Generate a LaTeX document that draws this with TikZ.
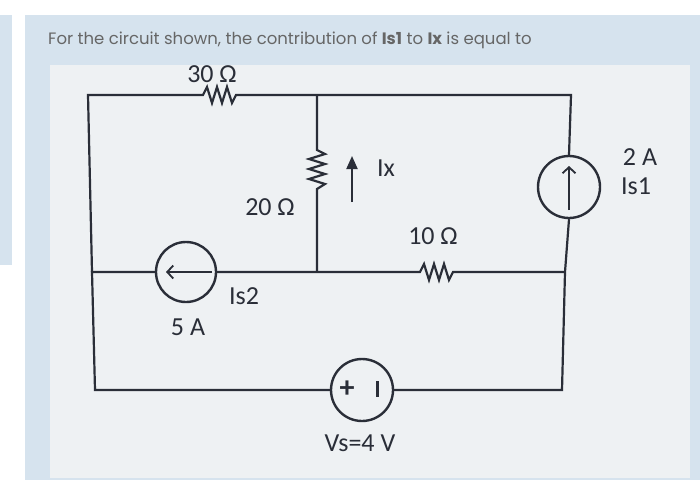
\documentclass[tikz,border=0pt]{standalone}
\usepackage{fontspec}
\setmainfont{Carlito}
\newfontfamily\titlefont{Poppins}
\usetikzlibrary{arrows.meta}
\definecolor{wire}{HTML}{2A2E38}
\definecolor{outerbg}{HTML}{D6E3EE}
\definecolor{innerbg}{HTML}{EEF1F3}
\begin{document}
\begin{tikzpicture}[x=1pt,y=-1pt,
  w/.style={draw=wire,line width=2.2pt},
  src/.style={circle,draw=wire,line width=2.4pt,minimum size=#1,inner sep=0pt,fill=innerbg},
  lbl/.style={text=wire,font=\fontsize{26}{28}\selectfont,inner sep=1pt}]
\useasboundingbox (0,0) rectangle (700,480);
\fill[white] (0,0) rectangle (700,480);
\fill[outerbg] (0,15) rectangle (12,265);
\fill[outerbg] (25,15) rectangle (700,480);
\fill[innerbg] (50,65) rectangle (690,478);
\node[anchor=west,text=gray!80!black,font=\titlefont\fontsize{16.5}{18}\selectfont,inner sep=0pt] (title) at (48,40) {For the circuit shown, the contribution of \textbf{Is1} to \textbf{Ix} is equal to};
% nodes
\coordinate (tl) at (88,95); \coordinate (tm) at (317,95); \coordinate (tr) at (571,95);
\coordinate (ml) at (92,272); \coordinate (mm) at (317,272); \coordinate (mr) at (565,272);
\coordinate (bl) at (95,390); \coordinate (br) at (562,390);
\node[src=60pt] (is2) at (186,272) {};
\node[src=62pt] (is1) at (569,187) {};
\node[src=62pt] (vs) at (362,390) {};
% wires
\draw[w] (ml) -- (tl) -- (203,95) -- (207,87) -- (212,103) -- (217,87) -- (222,103) -- (227,87) -- (232,103) -- (236,95) -- (tm) -- (tr) -- (is1.north);
\draw[w] (is1.south) -- (mr) -- (br) -- (vs.east);
\draw[w] (vs.west) -- (bl) -- (ml) -- (is2.west);
\draw[w] (is2.east) -- (mm) -- (420,272) -- (424,264) -- (429,280) -- (434,264) -- (439,280) -- (444,264) -- (449,280) -- (453,272) -- (mr);
\draw[w] (tm) -- (317,150) -- (325,154) -- (309,159) -- (325,164) -- (309,169) -- (325,174) -- (309,179) -- (325,184) -- (317,189) -- (mm);
% source symbols
\draw[draw=wire,line width=1.8pt,-{Straight Barb[length=6pt,width=13pt]}] (is2.center)++(26,0) -- ++(-46,0);
\draw[draw=wire,line width=1.8pt,-{Straight Barb[length=6pt,width=13pt]}] (is1.center)++(0,23) -- ++(0,-44);
\node[text=wire,font=\bfseries\fontsize{30}{30}\selectfont] (plus) at (347,389) {+};
\draw[draw=wire,line width=3pt] (377,381) -- (377,397);
% Ix arrow
\coordinate (ixb) at (352,202); \coordinate (ixt) at (352,156);
\draw[draw=wire,line width=2pt,-{Triangle[length=13pt,width=11pt]}] (ixb) -- (ixt);
% labels
\node[lbl] (l30) at (212,74) {30 Ω};
\node[lbl] (l20) at (270,207) {20 Ω};
\node[lbl] (lix) at (386,168) {Ix};
\node[lbl] (l10) at (433,236) {10 Ω};
\node[lbl] (l2a) at (640,157) {2 A};
\node[lbl] (lis1) at (636,186) {Is1};
\node[lbl] (lis2) at (244,296) {Is2};
\node[lbl] (l5a) at (188,327) {5 A};
\node[lbl] (lvs) at (360,443) {Vs=4 V};
\end{tikzpicture}
\end{document}
